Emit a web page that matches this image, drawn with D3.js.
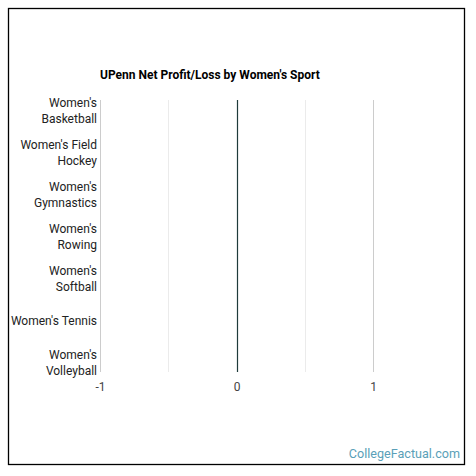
<!DOCTYPE html>
<html>
<head>
<meta charset="utf-8">
<script src="https://cdn.jsdelivr.net/npm/d3@7"></script>
<style>
  body { margin: 0; background: #fff; }
  svg { display: block; font-family: Roboto, Arial, sans-serif; }
</style>
</head>
<body>
<svg id="canvas" width="476" height="476"></svg>
<script>
'use strict';

// chart data: every sport sits on zero
var sports = ["Women's Basketball", "Women's Field Hockey", "Women's Gymnastics",
  "Women's Rowing", "Women's Softball", "Women's Tennis", "Women's Volleyball"];
var netProfit = [0, 0, 0, 0, 0, 0, 0];
var xTicks = [-1, 0, 1];
var xGrid = [-1, -0.5, 0, 0.5, 1];

// drawing area inside the frame
var plot = {left: 100, right: 373, top: 100, bottom: 372};

var svg = d3.select('svg#canvas');

/* outer frame */
svg.append('rect')
  .attr('x', 8.5).attr('y', 8.5)
  .attr('width', 456).attr('height', 456)
  .attr('fill', '#fff')
  .attr('stroke', '#000')
  .attr('stroke-width', 1.3);

/* scales */
var x = d3.scaleLinear().domain([-1, 1]).range([plot.left, plot.right]);
var y = d3.scalePoint().domain(sports).range([111, 363]);
var band = d3.scaleBand().domain(sports).range([plot.top, plot.bottom]).padding(0.35);

/* vertical gridlines */
svg.append('g').selectAll('line')
  .data(xGrid)
  .join('line')
    .attr('x1', function(d){ return Math.round(x(d)) + 0.5; })
    .attr('x2', function(d){ return Math.round(x(d)) + 0.5; })
    .attr('y1', plot.top).attr('y2', plot.bottom)
    .attr('stroke', function(d){ return Number.isInteger(d) ? '#cccccc' : '#ebebeb'; })
    .attr('stroke-width', 1);

/* bars (all zero width) */
svg.append('g').selectAll('rect')
  .data(netProfit)
  .join('rect')
    .attr('x', function(d){ return x(Math.min(0, d)); })
    .attr('y', function(d, i){ return band(sports[i]); })
    .attr('width', function(d){ return Math.abs(x(d) - x(0)); })
    .attr('height', band.bandwidth())
    .attr('fill', '#3d7f8f');

/* zero baseline */
svg.append('line')
  .attr('x1', Math.round(x(0)) + 0.5).attr('x2', Math.round(x(0)) + 0.5)
  .attr('y1', plot.top).attr('y2', plot.bottom)
  .attr('stroke', '#1f3b3b')
  .attr('stroke-width', 1.2);

/* bottom axis labels (plain hyphen for negatives, as in the original) */
var xAxis = d3.axisBottom(x).tickValues(xTicks).tickSize(0).tickPadding(0)
  .tickFormat(function(d){ return String(d); });
var gx = svg.append('g')
  .attr('transform', 'translate(0,' + (plot.bottom + 10) + ')')
  .call(xAxis);
gx.select('.domain').remove();
gx.selectAll('text')
  .attr('dy', '0.71em')
  .attr('fill', '#444')
  .style('font-size', '12px')
  .style('font-family', 'Roboto, Arial, sans-serif');

/* category labels, wrapped like the original */
function wrapLabel(label){
  if (label === "Women's Tennis") return [label];
  var words = label.split(' ');
  if (words.length === 3) return [words[0] + ' ' + words[1], words[2]];
  return words;
}
var labels = svg.append('g').selectAll('text')
  .data(sports)
  .join('text')
    .attr('text-anchor', 'end')
    .attr('fill', '#222')
    .style('font-size', '12px');
labels.each(function(d){
  var lines = wrapLabel(d);
  var cy = y(d);
  var t = d3.select(this);
  lines.forEach(function(line, i){
    t.append('tspan')
      .attr('x', 97)
      .attr('y', cy + (i - (lines.length - 1) / 2) * 16 + 4)
      .text(line);
  });
});

/* title */
svg.append('text')
  .attr('x', 100).attr('y', 79)
  .attr('fill', '#000')
  .style('font-size', '12px')
  .style('font-weight', 'bold')
  .text("UPenn Net Profit/Loss by Women's Sport");

/* watermark */
svg.append('text')
  .attr('x', 460).attr('y', 458)
  .attr('text-anchor', 'end')
  .attr('fill', '#5a9fb8')
  .style('font-size', '12.6px')
  .text('CollegeFactual.com');
</script>
</body>
</html>
